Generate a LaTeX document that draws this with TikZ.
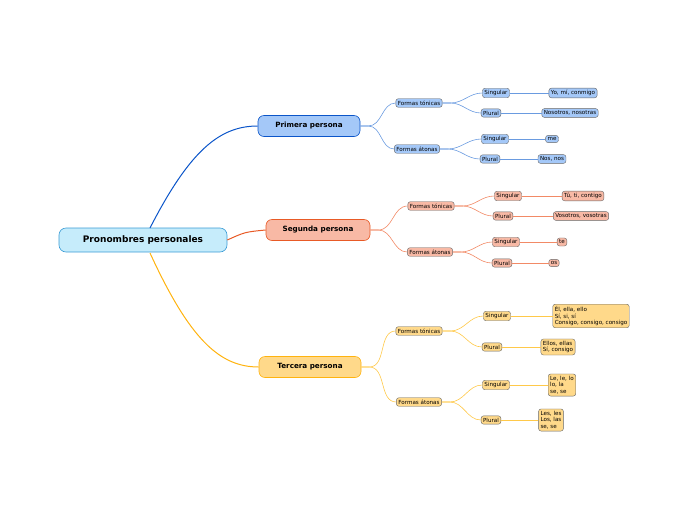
\documentclass[tikz,border=0pt]{standalone}
\usepackage{fontspec}
\setmainfont{DejaVu Sans}
\begin{document}
\begin{tikzpicture}[x=1pt,y=-1pt,
  base/.style={draw=black!60,rounded corners=2.5pt,inner sep=2pt,font=\fontsize{5.6}{6.6}\selectfont,align=left},
  bl/.style={base,fill=blueF},
  rd/.style={base,fill=redF},
  yl/.style={base,fill=yelF},
  main/.style={rounded corners=6pt,minimum height=21pt,font=\bfseries\fontsize{7.2}{8}\selectfont,line width=0.6pt},
  cb/.style={draw=blueL,line width=0.6pt},
  cr/.style={draw=redL,line width=0.6pt},
  cy/.style={draw=yelL,line width=0.6pt},
  ]
\definecolor{blueF}{HTML}{A4C8F8}\definecolor{blueL}{HTML}{6A9BE0}
\definecolor{redF}{HTML}{F8B9A5}\definecolor{redL}{HTML}{F28A66}
\definecolor{yelF}{HTML}{FFD98A}\definecolor{yelL}{HTML}{FFC94A}
\definecolor{blueM}{HTML}{0B55C9}\definecolor{redM}{HTML}{E85A26}\definecolor{yelM}{HTML}{FFB30F}
\definecolor{rootF}{HTML}{C6ECFB}\definecolor{rootL}{HTML}{3A9BD5}
\useasboundingbox (0,0) rectangle (697,520);
\node[draw=rootL,fill=rootF,rounded corners=7pt,minimum width=168pt,minimum height=24pt,font=\bfseries\fontsize{9}{10}\selectfont,line width=0.6pt] (root) at (143,240) {Pronombres personales};
\node[main,draw=blueM,fill=blueF,minimum width=102pt] (p1) at (309,126) {Primera persona};
\node[main,draw=redM,fill=redF,minimum width=104pt] (p2) at (318,230) {Segunda persona};
\node[main,draw=yelM,fill=yelF,minimum width=102pt] (p3) at (310,367) {Tercera persona};
\coordinate (r1) at (150,228);\coordinate (r3) at (150,253);
\draw[line width=1pt,blueM] (r1) .. controls (190,150) and (220,126) .. (p1.west);
\draw[line width=1pt,redM] (root.east) .. controls (245,232) .. (p2.west);
\draw[line width=1pt,yelM] (r3) .. controls (190,340) and (220,367) .. (p3.west);
% primera
\node[bl] (a1) at (419,103) {Formas tónicas};
\node[bl] (a2) at (417,149) {Formas átonas};
\node[bl] (a3) at (496,93) {Singular};
\node[bl] (a4) at (491,113) {Plural};
\node[bl] (a5) at (573,93) {Yo, mí, conmigo};
\node[bl] (a6) at (570,113) {Nosotros, nosotras};
\node[bl] (a7) at (495,139) {Singular};
\node[bl] (a8) at (490,159) {Plural};
\node[bl] (a9) at (552,139) {me};
\node[bl] (a10) at (552,159) {Nos, nos};
% segunda
\node[rd] (b1) at (431,206) {Formas tónicas};
\node[rd] (b2) at (430,252) {Formas átonas};
\node[rd] (b3) at (508,196) {Singular};
\node[rd] (b4) at (503,216) {Plural};
\node[rd] (b5) at (583,196) {Tú, ti, contigo};
\node[rd] (b6) at (581,216) {Vosotros, vosotras};
\node[rd] (b7) at (506,242) {Singular};
\node[rd] (b8) at (502,263) {Plural};
\node[rd] (b9) at (562,242) {te};
\node[rd] (b10) at (554,263) {os};
% tercera
\node[yl] (c1) at (419,331) {Formas tónicas};
\node[yl] (c2) at (419,402) {Formas átonas};
\node[yl] (c3) at (497,316) {Singular};
\node[yl] (c4) at (492,347) {Plural};
\node[yl] (c5) at (591,316) {Él, ella, ello\\Sí, si, sí\\Consigo, consigo, consigo};
\node[yl] (c6) at (558,347) {Ellos, ellas\\Sí, consigo};
\node[yl] (c7) at (496,385) {Singular};
\node[yl] (c8) at (491,420) {Plural};
\node[yl] (c9) at (562,385) {Le, le, lo\\lo, la\\se, se};
\node[yl] (c10) at (551,420) {Les, les\\Los, las\\se, se};
\foreach \s/\t/\c in {p1/a1/cb,p1/a2/cb,a1/a3/cb,a1/a4/cb,a2/a7/cb,a2/a8/cb,
  p2/b1/cr,p2/b2/cr,b1/b3/cr,b1/b4/cr,b2/b7/cr,b2/b8/cr,
  p3/c1/cy,p3/c2/cy,c1/c3/cy,c1/c4/cy,c2/c7/cy,c2/c8/cy}
  \draw[\c] (\s.east) -- ++(8,0) to[out=0,in=180] (\t.west);
\foreach \s/\t/\c in {a3/a5/cb,a4/a6/cb,a7/a9/cb,a8/a10/cb,b3/b5/cr,b4/b6/cr,b7/b9/cr,b8/b10/cr,c3/c5/cy,c4/c6/cy,c7/c9/cy,c8/c10/cy}
  \draw[\c] (\s.east) -- (\t.west);
\end{tikzpicture}
\end{document}
